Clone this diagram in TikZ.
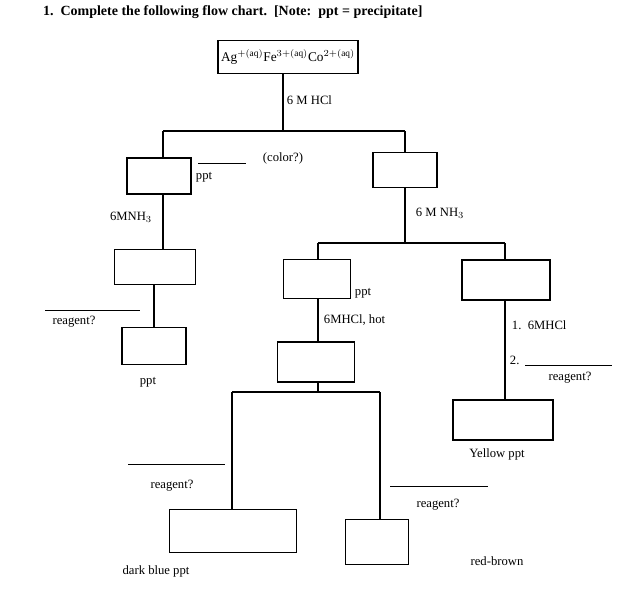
\documentclass[tikz,border=0pt]{standalone}
\usepackage{fontspec}
\setmainfont{Liberation Serif}
\begin{document}
\begin{tikzpicture}[x=0.75pt,y=-0.75pt,line width=0.9pt,
 bx/.style={draw,rectangle,minimum width=#1,minimum height=36pt*0.75,inner sep=0pt},
 lb/.style={font=\fontsize{9.5}{11}\selectfont,inner sep=1pt}]
\useasboundingbox (0,0) rectangle (642,594);
\node[anchor=west,font=\bfseries\fontsize{10.5}{12}\selectfont] (title) at (38,12) {1.\ \ Complete the following flow chart.\ \ [Note:\ \ ppt = precipitate]};
\node[draw,minimum width=105pt,minimum height=25pt,inner sep=0pt] (top) at (288,57) {Ag$^{+\mathrm{(aq)}}$Fe$^{3+\mathrm{(aq)}}$Co$^{2+\mathrm{(aq)}}$};
\coordinate (t1) at (283,131);
\coordinate (hl) at (163,131); \coordinate (hr) at (405,131);
\draw (top.south -| t1) -- (t1);
\node[lb,anchor=west] (hcl) at (285,100) {6 M HCl};
\draw (hl) -- (hr);
\node[bx=48pt] (A) at (159,176) {};
\node[bx=48pt,minimum height=26pt] (B) at (405,170) {};
\draw (hl) -- (hl|-A.north);
\draw (hr) -- (B.north);
\node[lb,anchor=west] (ppt1) at (194,177) {ppt};
\coordinate (b1) at (198,163); \coordinate (b2) at (246,163);
\draw[line width=0.6pt] (b1) -- (b2);
\node[lb] (col) at (283,158) {(color?)};
% left branch
\node[bx=61pt,minimum height=26pt] (C) at (155,267) {};
\draw (A.south -| hl) -- (C.north -| hl);
\node[lb] (nh3a) at (131,217) {6MNH$_3$};
\node[bx=48pt,minimum height=28pt] (D) at (154,346) {};
\draw (C.south -| D) -- (D.north);
\node[lb] (ppt2) at (148,382) {ppt};
\coordinate (r1) at (45,310); \coordinate (r2) at (140,310);
\draw[line width=0.6pt] (r1) -- (r2);
\node[lb] (rg1) at (74,322) {reagent?};
% right branch
\coordinate (m) at (405,243); \coordinate (ml) at (318,243); \coordinate (mr) at (505,243);
\draw (B.south) -- (m);
\node[lb,anchor=west] (nh3b) at (414,213) {6 M NH$_3$};
\draw (ml) -- (mr);
\node[bx=50pt,minimum height=29pt] (E) at (317,279) {};
\draw (ml) -- (ml|-E.north);
\node[lb,anchor=west] (ppt3) at (353,293) {ppt};
\node[bx=58pt,minimum height=30pt] (F) at (316,362) {};
\draw (E.south -| ml) -- (F.north -| ml);
\node[lb,anchor=west] (hot) at (322,320) {6MHCl, hot};
\coordinate (n) at (318,392); \coordinate (nl) at (232,392); \coordinate (nr) at (380,392);
\draw (F.south -| n) -- (n);
\draw (nl) -- (nr);
\node[bx=95pt,minimum height=32pt] (G) at (233,531) {};
\draw (nl) -- (G.north -| nl);
\coordinate (r3) at (128,464); \coordinate (r4) at (225,464);
\draw[line width=0.6pt] (r3) -- (r4);
\node[lb] (rg2) at (172,486) {reagent?};
\node[lb] (dbp) at (156,571) {dark blue ppt};
\node[bx=47pt,minimum height=34pt] (H) at (377,542) {};
\draw (nr) -- (H.north -| nr);
\coordinate (r5) at (390,486); \coordinate (r6) at (488,486);
\draw[line width=0.6pt] (r5) -- (r6);
\node[lb] (rg3) at (438,505) {reagent?};
\node[lb] (rb) at (497,561) {red-brown};
% far right
\node[bx=66pt,minimum height=30pt] (I) at (506,280) {};
\draw (mr) -- (I.north -| mr);
\node[bx=75pt,minimum height=30pt] (J) at (503,420) {};
\draw (I.south -| mr) -- (J.north -| mr);
\node[lb,anchor=west] (s1) at (510,325) {1.\ \ 6MHCl};
\node[lb,anchor=west] (s2) at (508,360) {2.};
\coordinate (r7) at (525,365); \coordinate (r8) at (612,365);
\draw[line width=0.6pt] (r7) -- (r8);
\node[lb] (rg4) at (570,378) {reagent?};
\node[lb] (yp) at (497,454) {Yellow ppt};
\end{tikzpicture}
\end{document}
